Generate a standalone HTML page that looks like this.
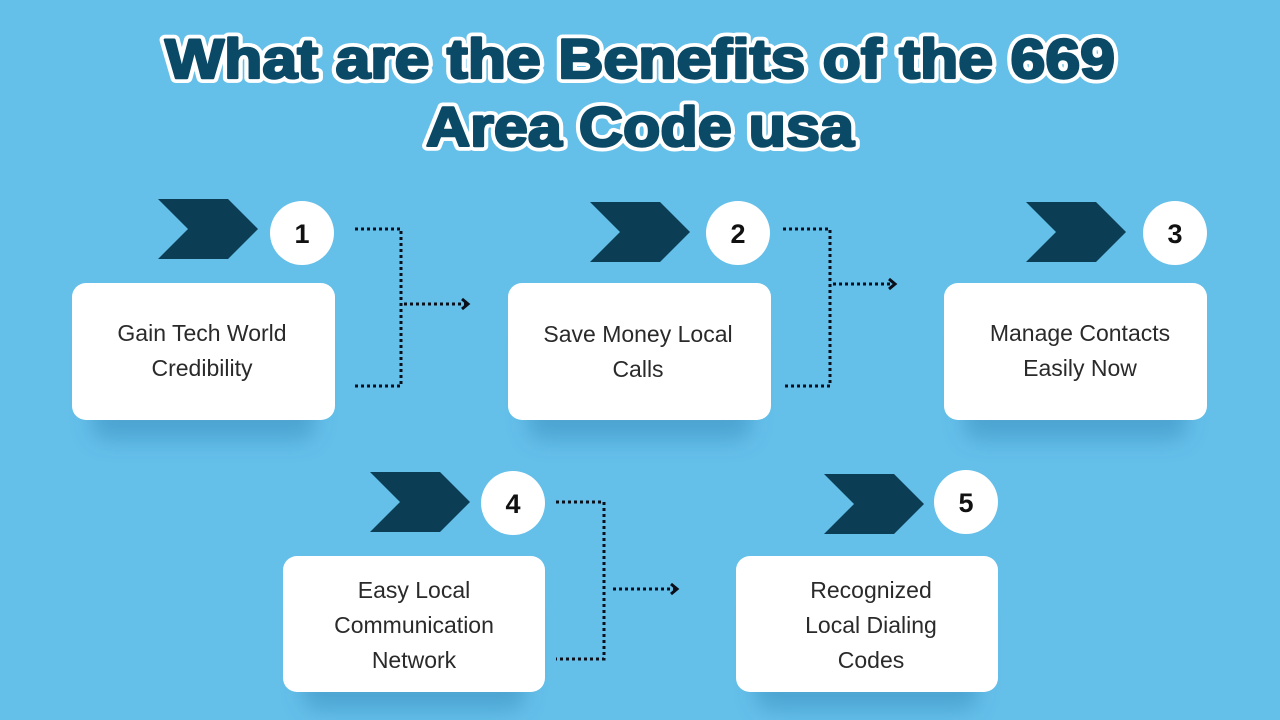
<!DOCTYPE html>
<html><head><meta charset="utf-8"><style>
html,body{margin:0;padding:0;background:#64bfe9;}
svg{display:block;}
.t{font-family:"Liberation Sans",sans-serif;font-size:23px;fill:#2a2a2a;text-anchor:middle;}
.n{font-family:"Liberation Sans",sans-serif;font-size:27px;font-weight:bold;fill:#111;text-anchor:middle;}
.d{fill:none;stroke:#0a0f1a;stroke-width:3;stroke-dasharray:3 3;}
.ttl{font-family:"Liberation Sans",sans-serif;font-weight:900;font-size:56px;text-anchor:middle;stroke-linejoin:round;}
.bg{fill:#fff;stroke:#fff;stroke-width:10;}
.fg{fill:#0b4a66;stroke:#0b4a66;stroke-width:2.5;}
</style></head><body>
<svg width="1280" height="720" viewBox="0 0 1280 720" xmlns="http://www.w3.org/2000/svg">
<defs><filter id="sh" x="-20%" y="-20%" width="140%" height="160%"><feGaussianBlur stdDeviation="10"/></filter>
<g id="chev"><polygon points="0,0 70,0 100,30 70,60 0,60 30,30" fill="#0b3d55"/></g>
<g id="ar"><polyline points="-6,-5 0,0 -6,5" fill="none" stroke="#0a0f1a" stroke-width="3"/></g></defs>
<rect width="1280" height="720" fill="#64bfe9"/>
<text class="ttl bg" x="640" y="78" textLength="950" lengthAdjust="spacingAndGlyphs">What are the Benefits of the 669</text>
<text class="ttl fg" x="640" y="78" textLength="950" lengthAdjust="spacingAndGlyphs">What are the Benefits of the 669</text>
<text class="ttl bg" x="640" y="146" textLength="428" lengthAdjust="spacingAndGlyphs">Area Code usa</text>
<text class="ttl fg" x="640" y="146" textLength="428" lengthAdjust="spacingAndGlyphs">Area Code usa</text>

<g fill="#3a8fbf" opacity="0.55" filter="url(#sh)">
<rect x="92" y="330" width="223" height="110" rx="14"/>
<rect x="528" y="330" width="223" height="110" rx="14"/>
<rect x="964" y="330" width="223" height="110" rx="14"/>
<rect x="303" y="600" width="222" height="110" rx="14"/>
<rect x="756" y="600" width="222" height="110" rx="14"/>
</g>

<use href="#chev" x="158" y="199"/>
<use href="#chev" x="590" y="202"/>
<use href="#chev" x="1026" y="202"/>
<use href="#chev" x="370" y="472"/>
<use href="#chev" x="824" y="474"/>

<g fill="#fff">
<circle cx="302" cy="233" r="32"/><circle cx="738" cy="233" r="32"/><circle cx="1175" cy="233" r="32"/>
<circle cx="513" cy="503" r="32"/><circle cx="966" cy="502" r="32"/>
<rect x="72" y="283" width="263" height="137" rx="14"/>
<rect x="508" y="283" width="263" height="137" rx="14"/>
<rect x="944" y="283" width="263" height="137" rx="14"/>
<rect x="283" y="556" width="262" height="136" rx="14"/>
<rect x="736" y="556" width="262" height="136" rx="14"/>
</g>
<text class="n" x="302" y="243">1</text><text class="n" x="738" y="243">2</text><text class="n" x="1175" y="243">3</text>
<text class="n" x="513" y="513">4</text><text class="n" x="966" y="512">5</text>

<text class="t" x="202" y="341">Gain Tech World</text><text class="t" x="202" y="376">Credibility</text>
<text class="t" x="638" y="342">Save Money Local</text><text class="t" x="638" y="377">Calls</text>
<text class="t" x="1080" y="341">Manage Contacts</text><text class="t" x="1080" y="376">Easily Now</text>
<text class="t" x="414" y="598">Easy Local</text><text class="t" x="414" y="633">Communication</text><text class="t" x="414" y="668">Network</text>
<text class="t" x="871" y="598">Recognized</text><text class="t" x="871" y="633">Local Dialing</text><text class="t" x="871" y="668">Codes</text>

<polyline class="d" points="355,229 401,229 401,386 355,386"/>
<line class="d" x1="404" y1="304" x2="466" y2="304"/><use href="#ar" x="468" y="304"/>
<polyline class="d" points="783,229 830,229 830,386 783,386"/>
<line class="d" x1="833" y1="284" x2="893" y2="284"/><use href="#ar" x="895" y="284"/>
<polyline class="d" points="556,502 604,502 604,659 556,659"/>
<line class="d" x1="613" y1="589" x2="675" y2="589"/><use href="#ar" x="677" y="589"/>
</svg>
</body></html>
